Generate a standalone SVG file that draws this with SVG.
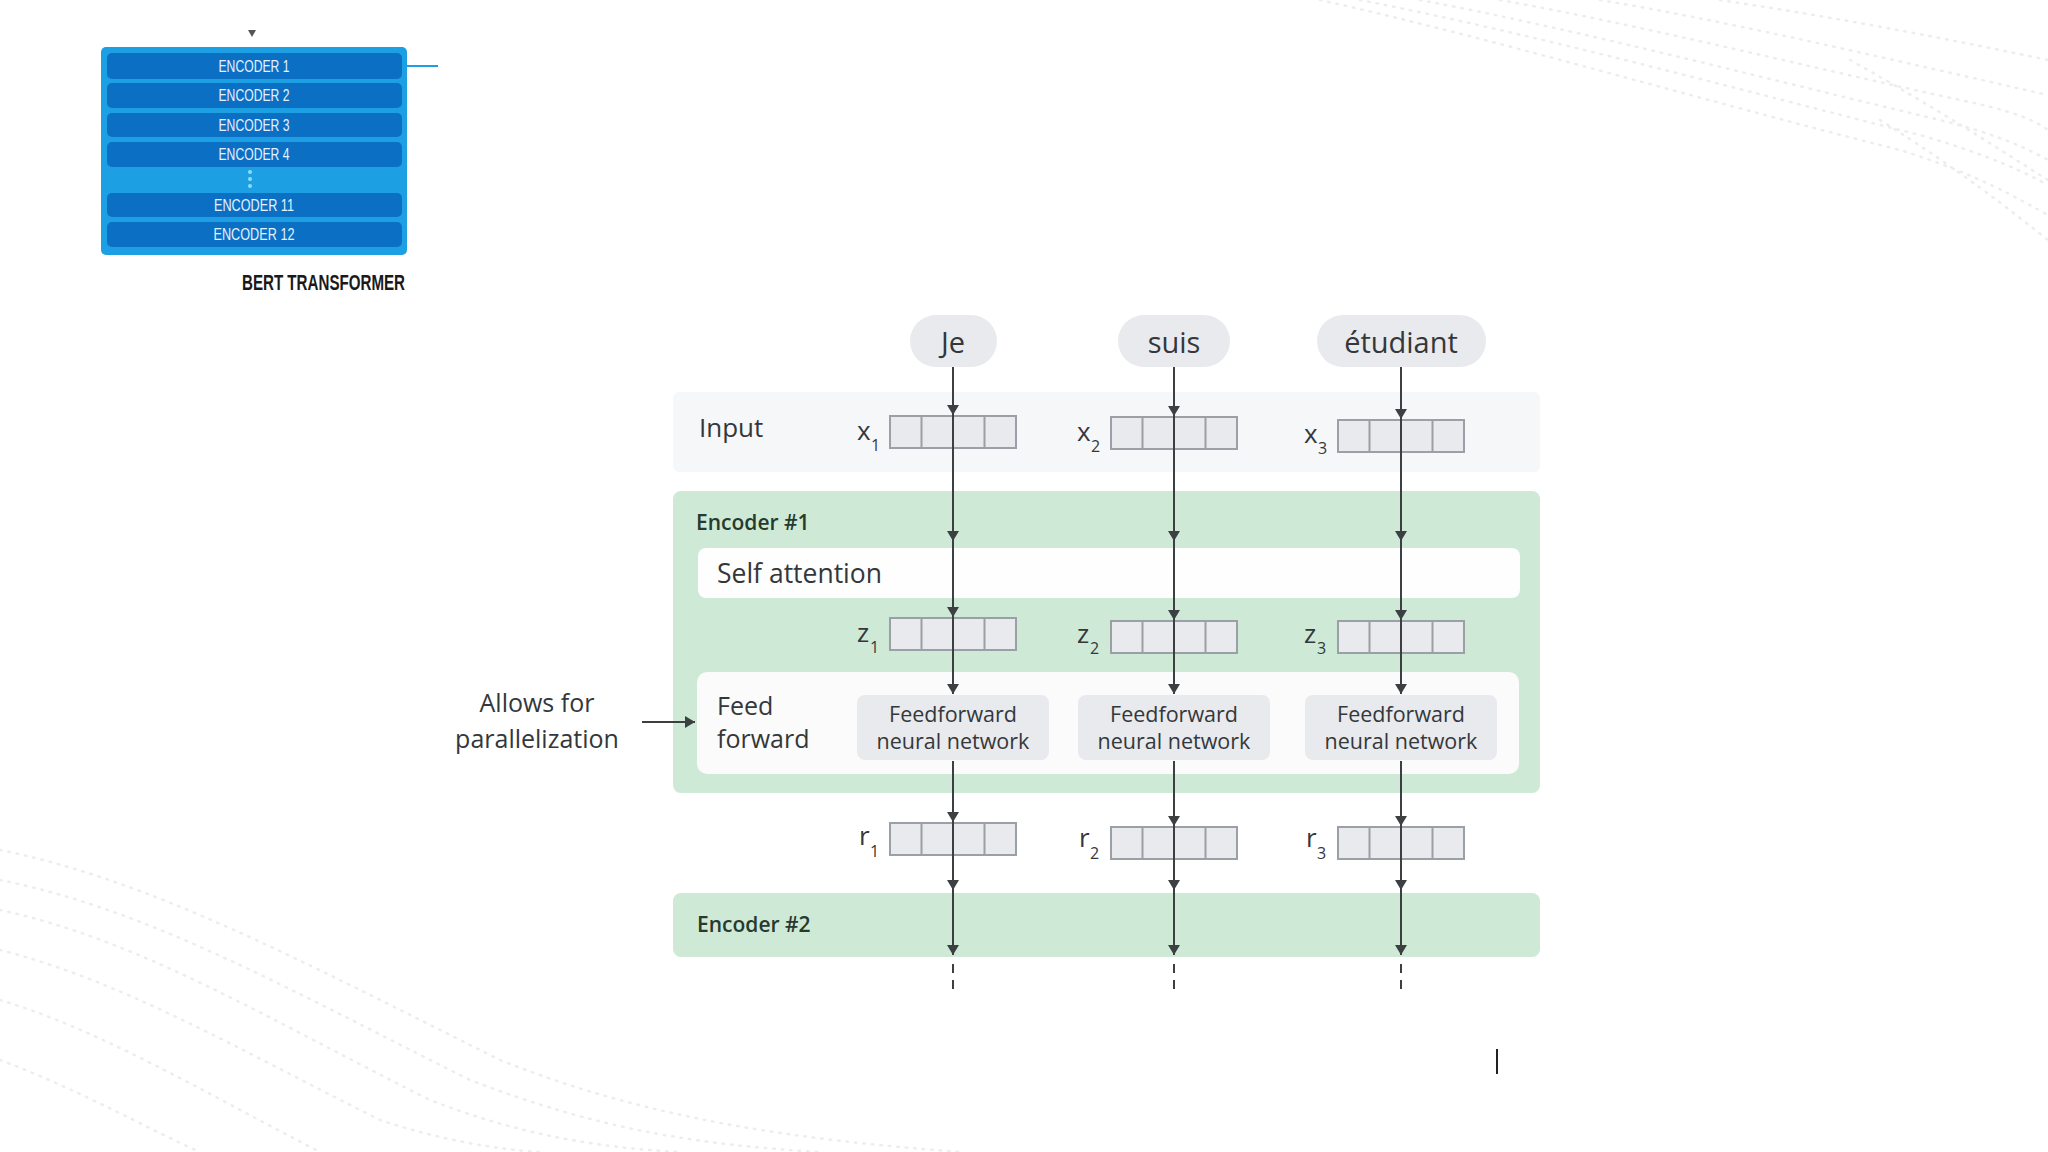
<svg xmlns="http://www.w3.org/2000/svg" width="2048" height="1152" viewBox="0 0 2048 1152">
<style>
.bgwave{fill:none;stroke:#ededee;stroke-width:2.5;stroke-dasharray:1.5 7;stroke-linecap:round}
.encrow{fill:#0b6fc4}
.enctxt{font-family:"Liberation Sans",Arial,sans-serif;font-size:16px;fill:#e3f2ff;text-anchor:middle}
.t{font-family:"Open Sans","Liberation Sans",sans-serif;fill:#34373b}
.pill{fill:#e8eaed}
.vec{fill:#e8eaed;stroke:#9aa0a6;stroke-width:2}
.ffnn{fill:#e8eaed}
.green{fill:#cee9d6}
.lbl{font-family:"Open Sans","Liberation Sans",sans-serif;fill:#263a2e;font-size:21px;font-weight:600}
.conn{stroke:#3c4043;stroke-width:2;fill:none}
</style>
<defs>
<marker id="ah" viewBox="0 0 10 12" refX="10" refY="6" markerWidth="11" markerHeight="12" markerUnits="userSpaceOnUse" orient="auto">
<path d="M0,0 L10,6 L0,12 Z" fill="#3c4043"/>
</marker>
</defs>
<rect width="2048" height="1152" fill="#ffffff"/>
<g id="background">
<path class="bgwave" d="M1320,0 C1500,40 1700,100 1900,150 C1980,175 2020,200 2048,215"/>
<path class="bgwave" d="M1360,0 C1540,35 1740,90 1920,135 C1990,155 2030,175 2048,185"/>
<path class="bgwave" d="M1420,0 C1580,30 1770,80 1940,120 C2000,135 2030,150 2048,160"/>
<path class="bgwave" d="M1500,0 C1640,25 1800,65 1960,100 C2010,110 2035,120 2048,130"/>
<path class="bgwave" d="M1600,0 C1720,20 1850,50 2048,95"/>
<path class="bgwave" d="M1720,0 C1820,15 1930,35 2048,60"/>
<path class="bgwave" d="M1880,120 C1960,170 2010,210 2048,240"/>
<path class="bgwave" d="M1850,60 C1940,110 2000,150 2048,180"/>
<path class="bgwave" d="M0,850 C150,880 300,960 500,1060 C650,1120 800,1140 960,1152"/>
<path class="bgwave" d="M0,880 C150,910 290,990 470,1080 C600,1130 700,1145 820,1152"/>
<path class="bgwave" d="M0,910 C140,940 270,1020 430,1100 C520,1135 600,1148 680,1152"/>
<path class="bgwave" d="M0,950 C120,980 240,1050 380,1120 C440,1140 500,1150 540,1152"/>
<path class="bgwave" d="M0,1000 C100,1030 200,1090 320,1152"/>
<path class="bgwave" d="M0,1060 C80,1090 150,1130 200,1152"/>
</g>
<g id="bert-stack">
<path d="M248,30 L256,30 L252,37 Z" fill="#555"/>
<rect x="101" y="47" width="306" height="208" rx="5" fill="#1ca0e3"/>
<line x1="407" y1="66" x2="438" y2="66" stroke="#1ca0e3" stroke-width="2"/>
<rect class="encrow" x="107" y="53" width="295" height="26" rx="5"/>
<rect class="encrow" x="107" y="83" width="295" height="25" rx="5"/>
<rect class="encrow" x="107" y="113" width="295" height="24" rx="5"/>
<rect class="encrow" x="107" y="142" width="295" height="25" rx="5"/>
<rect class="encrow" x="107" y="193" width="295" height="24" rx="5"/>
<rect class="encrow" x="107" y="222" width="295" height="25" rx="5"/>
<text class="enctxt" x="254" y="72" textLength="71" lengthAdjust="spacingAndGlyphs">ENCODER 1</text>
<text class="enctxt" x="254" y="101" textLength="71" lengthAdjust="spacingAndGlyphs">ENCODER 2</text>
<text class="enctxt" x="254" y="131" textLength="71" lengthAdjust="spacingAndGlyphs">ENCODER 3</text>
<text class="enctxt" x="254" y="160" textLength="71" lengthAdjust="spacingAndGlyphs">ENCODER 4</text>
<circle cx="250" cy="172" r="2" fill="#8fdcfa"/>
<circle cx="250" cy="179" r="2" fill="#8fdcfa"/>
<circle cx="250" cy="186" r="2" fill="#8fdcfa"/>
<text class="enctxt" x="254" y="211" textLength="80" lengthAdjust="spacingAndGlyphs">ENCODER 11</text>
<text class="enctxt" x="254" y="240" textLength="81" lengthAdjust="spacingAndGlyphs">ENCODER 12</text>
<text x="242" y="290" font-family="Liberation Sans,Arial,sans-serif" font-size="22" font-weight="bold" fill="#1a1a1a" textLength="163" lengthAdjust="spacingAndGlyphs">BERT TRANSFORMER</text>
</g>
<g id="input-band">
<rect x="673" y="392" width="867" height="80" rx="6" fill="#f6f7f8"/>
<text class="t" x="699" y="437" font-size="26">Input</text>
</g>
<g id="encoder1">
<rect class="green" x="673" y="491" width="867" height="302" rx="8"/>
<text class="lbl" x="696" y="530">Encoder #1</text>
</g>
<g id="self-attention">
<rect x="698" y="548" width="822" height="50" rx="8" fill="#fdfefd"/>
<text class="t" x="717" y="583" font-size="26.5">Self attention</text>
</g>
<g id="feed-forward">
<rect x="697" y="672" width="822" height="102" rx="10" fill="#fafbfa"/>
<text class="t" x="717" y="715" font-size="25">Feed</text>
<text class="t" x="717" y="748" font-size="25">forward</text>
</g>
<g id="encoder2">
<rect class="green" x="673" y="893" width="867" height="64" rx="8"/>
<text class="lbl" x="697" y="932">Encoder #2</text>
</g>
<g id="word-je">
<rect class="pill" x="910" y="315" width="87" height="52" rx="26"/>
<text class="t" x="953" y="353" font-size="29" text-anchor="middle">Je</text>
</g>
<g id="word-suis">
<rect class="pill" x="1118" y="315" width="112" height="52" rx="26"/>
<text class="t" x="1174" y="353" font-size="29" text-anchor="middle">suis</text>
</g>
<g id="word-etudiant">
<rect class="pill" x="1317" y="315" width="169" height="52" rx="26"/>
<text class="t" x="1401" y="353" font-size="29" text-anchor="middle">étudiant</text>
</g>
<g id="x1">
<rect class="vec" x="890" y="416" width="126" height="32"/>
<path class="vec" d="M921.5,416 V448 M953,416 V448 M984.5,416 V448"/>
<text class="t" x="857" y="440" font-size="26">x</text><text class="t" x="871" y="451" font-size="16">1</text>
</g>
<g id="x2">
<rect class="vec" x="1111" y="417" width="126" height="32"/>
<path class="vec" d="M1142.5,417 V449 M1174,417 V449 M1205.5,417 V449"/>
<text class="t" x="1077" y="441" font-size="26">x</text><text class="t" x="1091" y="452" font-size="16">2</text>
</g>
<g id="x3">
<rect class="vec" x="1338" y="420" width="126" height="32"/>
<path class="vec" d="M1369.5,420 V452 M1401,420 V452 M1432.5,420 V452"/>
<text class="t" x="1304" y="443" font-size="26">x</text><text class="t" x="1318" y="454" font-size="16">3</text>
</g>
<g id="z1">
<rect class="vec" x="890" y="618" width="126" height="32"/>
<path class="vec" d="M921.5,618 V650 M953,618 V650 M984.5,618 V650"/>
<text class="t" x="857" y="642" font-size="26">z</text><text class="t" x="870" y="653" font-size="16">1</text>
</g>
<g id="z2">
<rect class="vec" x="1111" y="621" width="126" height="32"/>
<path class="vec" d="M1142.5,621 V653 M1174,621 V653 M1205.5,621 V653"/>
<text class="t" x="1077" y="643" font-size="26">z</text><text class="t" x="1090" y="654" font-size="16">2</text>
</g>
<g id="z3">
<rect class="vec" x="1338" y="621" width="126" height="32"/>
<path class="vec" d="M1369.5,621 V653 M1401,621 V653 M1432.5,621 V653"/>
<text class="t" x="1304" y="643" font-size="26">z</text><text class="t" x="1317" y="654" font-size="16">3</text>
</g>
<g id="ffnn1">
<rect class="ffnn" x="857" y="695" width="192" height="65" rx="8"/>
<text class="t" x="953" y="722" font-size="21.5" text-anchor="middle">Feedforward</text>
<text class="t" x="953" y="749" font-size="21.5" text-anchor="middle">neural network</text>
</g>
<g id="ffnn2">
<rect class="ffnn" x="1078" y="695" width="192" height="65" rx="8"/>
<text class="t" x="1174" y="722" font-size="21.5" text-anchor="middle">Feedforward</text>
<text class="t" x="1174" y="749" font-size="21.5" text-anchor="middle">neural network</text>
</g>
<g id="ffnn3">
<rect class="ffnn" x="1305" y="695" width="192" height="65" rx="8"/>
<text class="t" x="1401" y="722" font-size="21.5" text-anchor="middle">Feedforward</text>
<text class="t" x="1401" y="749" font-size="21.5" text-anchor="middle">neural network</text>
</g>
<g id="r1">
<rect class="vec" x="890" y="823" width="126" height="32"/>
<path class="vec" d="M921.5,823 V855 M953,823 V855 M984.5,823 V855"/>
<text class="t" x="859" y="845" font-size="26">r</text><text class="t" x="870" y="857" font-size="16">1</text>
</g>
<g id="r2">
<rect class="vec" x="1111" y="827" width="126" height="32"/>
<path class="vec" d="M1142.5,827 V859 M1174,827 V859 M1205.5,827 V859"/>
<text class="t" x="1079" y="847" font-size="26">r</text><text class="t" x="1090" y="859" font-size="16">2</text>
</g>
<g id="r3">
<rect class="vec" x="1338" y="827" width="126" height="32"/>
<path class="vec" d="M1369.5,827 V859 M1401,827 V859 M1432.5,827 V859"/>
<text class="t" x="1306" y="847" font-size="26">r</text><text class="t" x="1317" y="859" font-size="16">3</text>
</g>
<g id="note">
<text class="t" x="537" y="712" font-size="25" text-anchor="middle">Allows for</text>
<text class="t" x="537" y="748" font-size="25" text-anchor="middle">parallelization</text>
</g>
<g id="connectors">
<line class="conn" x1="642" y1="722" x2="695" y2="722" marker-end="url(#ah)"/>
<line class="conn" x1="953" y1="367" x2="953" y2="415" marker-end="url(#ah)"/>
<line class="conn" x1="953" y1="415" x2="953" y2="541" marker-end="url(#ah)"/>
<line class="conn" x1="953" y1="541" x2="953" y2="617" marker-end="url(#ah)"/>
<line class="conn" x1="953" y1="617" x2="953" y2="694" marker-end="url(#ah)"/>
<line class="conn" x1="953" y1="761" x2="953" y2="822" marker-end="url(#ah)"/>
<line class="conn" x1="953" y1="822" x2="953" y2="890" marker-end="url(#ah)"/>
<line class="conn" x1="953" y1="890" x2="953" y2="955" marker-end="url(#ah)"/>
<line class="conn" x1="953" y1="964" x2="953" y2="992" stroke-dasharray="9 7"/>
<line class="conn" x1="1174" y1="367" x2="1174" y2="416" marker-end="url(#ah)"/>
<line class="conn" x1="1174" y1="416" x2="1174" y2="541" marker-end="url(#ah)"/>
<line class="conn" x1="1174" y1="541" x2="1174" y2="620" marker-end="url(#ah)"/>
<line class="conn" x1="1174" y1="620" x2="1174" y2="694" marker-end="url(#ah)"/>
<line class="conn" x1="1174" y1="761" x2="1174" y2="826" marker-end="url(#ah)"/>
<line class="conn" x1="1174" y1="826" x2="1174" y2="890" marker-end="url(#ah)"/>
<line class="conn" x1="1174" y1="890" x2="1174" y2="955" marker-end="url(#ah)"/>
<line class="conn" x1="1174" y1="964" x2="1174" y2="992" stroke-dasharray="9 7"/>
<line class="conn" x1="1401" y1="367" x2="1401" y2="419" marker-end="url(#ah)"/>
<line class="conn" x1="1401" y1="419" x2="1401" y2="541" marker-end="url(#ah)"/>
<line class="conn" x1="1401" y1="541" x2="1401" y2="620" marker-end="url(#ah)"/>
<line class="conn" x1="1401" y1="620" x2="1401" y2="694" marker-end="url(#ah)"/>
<line class="conn" x1="1401" y1="761" x2="1401" y2="826" marker-end="url(#ah)"/>
<line class="conn" x1="1401" y1="826" x2="1401" y2="890" marker-end="url(#ah)"/>
<line class="conn" x1="1401" y1="890" x2="1401" y2="955" marker-end="url(#ah)"/>
<line class="conn" x1="1401" y1="964" x2="1401" y2="992" stroke-dasharray="9 7"/>
</g>
<line x1="1497" y1="1049" x2="1497" y2="1074" stroke="#222" stroke-width="2"/>
</svg>
